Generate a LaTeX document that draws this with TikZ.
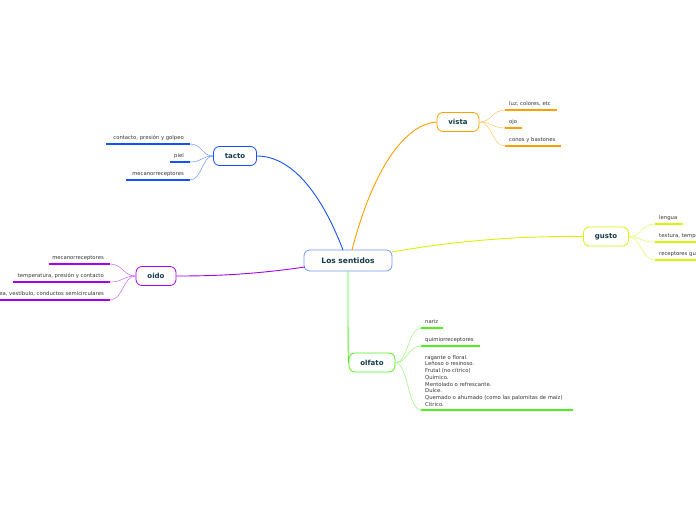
\documentclass[tikz,border=0pt]{standalone}
\usepackage{fontspec}
\setmainfont{DejaVu Sans}
\definecolor{cvis}{RGB}{255,160,0}
\definecolor{ctac}{RGB}{20,80,255}
\definecolor{cgus}{RGB}{215,245,0}
\definecolor{coid}{RGB}{165,0,240}
\definecolor{colf}{RGB}{80,240,30}
\definecolor{ctxt}{RGB}{20,60,70}
\begin{document}
\begin{tikzpicture}[x=1pt,y=-1pt,
  main/.style={draw=#1,rounded corners=6pt,line width=0.8pt,fill=white,font=\bfseries\fontsize{7}{8}\selectfont,text=ctxt,minimum height=19pt,inner xsep=8pt},
  leaf/.style={font=\fontsize{5.3}{6}\selectfont,text=black!80,inner sep=0pt},
  ul/.style={draw=#1,line width=1.4pt},
  lc/.style={draw=#1!60,line width=0.5pt},
  mc/.style={draw=#1,line width=0.9pt}]
\useasboundingbox (0,0) rectangle (696,520);
\clip (0,0) rectangle (696,520);
\node[main=ctac!60,minimum width=88pt,font=\bfseries\fontsize{7.5}{9}\selectfont,minimum height=21pt] (c) at (348,260.5) {Los sentidos};
\node[main=cvis,minimum width=42pt] (vis) at (458,122) {vista};
\node[main=ctac,minimum width=43pt] (tac) at (235,156) {tacto};
\node[main=cgus,minimum width=45pt] (gus) at (606,236.5) {gusto};
\node[main=coid,minimum width=40pt] (oid) at (156,276) {oido};
\node[main=colf,minimum width=46pt] (olf) at (372,362.5) {olfato};
% main connectors
\draw[mc=cvis] (352,250) .. controls (370,180) and (400,125) .. (vis.west);
\draw[mc=ctac] (343,250) .. controls (320,190) and (290,156) .. (tac.east);
\draw[mc=cgus] (392,252) .. controls (470,238) and (540,236) .. (gus.west);
\draw[mc=coid] (305,267) .. controls (250,275) and (210,276) .. (oid.east);
\draw[mc=colf] (348,271) .. controls (348,320) and (348,362) .. (olf.west);
\newcommand\leafR[6]{%
  \node[leaf,anchor=base west] (#1) at (#3+4,#4-4.5) {#6};
  \coordinate (#1a) at (#3,#4); \coordinate (#1b) at (#5,#4);
  \draw[ul=#2] (#1a) -- (#1b);}
\newcommand\leafL[6]{%
  \node[leaf,anchor=base east] (#1) at (#3-6,#4-4.5) {#6};
  \coordinate (#1a) at (#3,#4); \coordinate (#1b) at (#5,#4);
  \draw[ul=#2] (#1a) -- (#1b);}
% vista
\leafR{v1}{cvis}{505}{110}{557}{luz, colores, etc}
\leafR{v2}{cvis}{505}{128}{522}{ojo}
\leafR{v3}{cvis}{505}{146}{561}{conos y bastones}
\coordinate (vx) at (492,0); \coordinate (vy) at (492,122);
\foreach \n in {v1,v2,v3} \draw[lc=cvis] (vis.east) .. controls (vy) and (\n a -| vx) .. (\n a);
% tacto
\leafL{t1}{ctac}{190}{144}{106}{contacto, presión y golpeo}
\leafL{t2}{ctac}{190}{162}{170}{piel}
\leafL{t3}{ctac}{190}{180}{126}{mecanorreceptores}
\coordinate (tx) at (202,0); \coordinate (ty) at (202,156);
\foreach \n in {t1,t2,t3} \draw[lc=ctac] (tac.west) .. controls (ty) and (\n a -| tx) .. (\n a);
% gusto
\leafR{g1}{cgus}{655}{224}{683}{lengua}
\leafR{g2}{cgus}{655}{242}{700}{textura, temperatura}
\leafR{g3}{cgus}{655}{260}{700}{receptores gustativos}
\coordinate (gx) at (641,0); \coordinate (gy) at (641,237);
\foreach \n in {g1,g2,g3} \draw[lc=cgus] (gus.east) .. controls (gy) and (\n a -| gx) .. (\n a);
% oido
\leafL{o1}{coid}{110}{264}{49}{mecanorreceptores}
\leafL{o2}{coid}{110}{282}{13}{temperatura, presión y contacto}
\leafL{o3}{coid}{110}{300}{-10}{cóclea, vestíbulo, conductos semicirculares}
\coordinate (ox) at (123,0); \coordinate (oy) at (123,276);
\foreach \n in {o1,o2,o3} \draw[lc=coid] (oid.west) .. controls (oy) and (\n a -| ox) .. (\n a);
% olfato
\leafR{f1}{colf}{421}{328}{443}{nariz}
\leafR{f2}{colf}{421}{346}{480}{quimiorreceptores}
\node[leaf,anchor=north west,align=left,font=\fontsize{5.3}{6.7}\selectfont] (f3) at (425,355) {ragante o floral.\\Leñoso o resinoso.\\Frutal (no cítrico)\\Químico.\\Mentolado o refrescante.\\Dulce.\\Quemado o ahumado (como las palomitas de maíz)\\Cítrico.};
\coordinate (f3a) at (421,410); \coordinate (f3b) at (573,410);
\draw[ul=colf] (f3a) -- (f3b);
\coordinate (fx) at (408,0); \coordinate (fy) at (408,363);
\foreach \n in {f1,f2,f3} \draw[lc=colf] (olf.east) .. controls (fy) and (\n a -| fx) .. (\n a);
\end{tikzpicture}
\end{document}
